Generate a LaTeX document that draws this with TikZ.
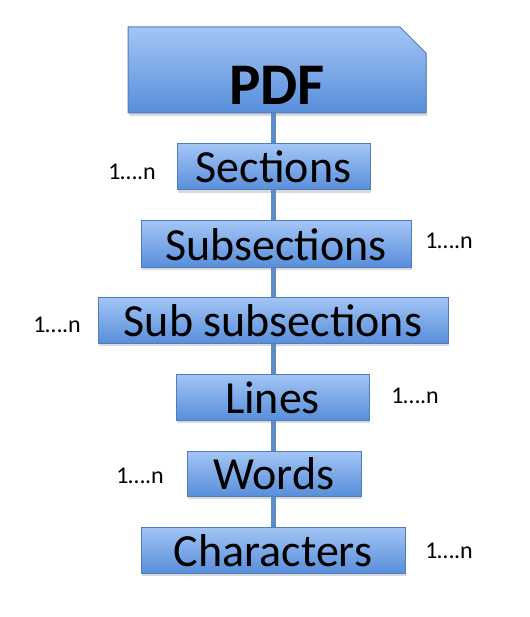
\documentclass[tikz,border=0pt]{standalone}
\usepackage{fontspec}
\setmainfont{Carlito}
\usetikzlibrary{shapes.misc,shadows}
\definecolor{boxtop}{RGB}{163,197,245}
\definecolor{boxbot}{RGB}{88,142,218}
\definecolor{boxline}{RGB}{79,125,190}
\definecolor{linkblue}{RGB}{92,140,200}

\begin{document}
\begin{tikzpicture}[x=1pt,y=-1pt,
    box/.style = {draw=boxline, line width=1pt, top color=boxtop, bottom color=boxbot,
                  drop shadow={opacity=0.3, shadow xshift=1pt, shadow yshift=-3pt},
                  inner sep=0pt, text height=32pt, text depth=0pt,
                  font=\fontsize{46}{46}\selectfont},
    mult/.style = {font=\fontsize{24}{24}\selectfont, inner sep=0pt},
    link/.style = {draw=linkblue, line width=5pt}]
            \useasboundingbox (0,0) rectangle (529,617);

            % links first, boxes on top
            \coordinate (top) at (273,110);
            \coordinate (bot) at (273,530);
            \draw[link] (top) -- (bot);

            \node[box, chamfered rectangle, chamfered rectangle corners=north east,
                  chamfered rectangle xsep=13pt, chamfered rectangle ysep=13pt,
                  minimum width=298pt, minimum height=86pt,
                  text height=40pt, text depth=0pt,
                  font=\bfseries\fontsize{59}{59}\selectfont] (pdf) at (277,70) {\raisebox{-15pt}{PDF}};

            \node[box, minimum width=193pt, minimum height=46pt] (sec) at (273.5,167) {Sections};
            \node[box, minimum width=270pt, minimum height=46pt] (subsec) at (276,244) {Subsections};
            \node[box, minimum width=350pt, minimum height=46pt] (subsub) at (273,320) {Sub subsections};
            \node[box, minimum width=193pt, minimum height=46pt] (lin) at (272.5,397) {Lines};
            \node[box, minimum width=174pt, minimum height=45pt] (wrd) at (274,473.5) {Words};
            \node[box, minimum width=264pt, minimum height=46pt] (chr) at (273,550) {Characters};

            \node[mult] (m1) at (132,172) {1\ldots.n};
            \node[mult] (m2) at (449,241) {1\ldots.n};
            \node[mult] (m3) at (57,325) {1\ldots.n};
            \node[mult] (m4) at (415,396) {1\ldots.n};
            \node[mult] (m5) at (140,476) {1\ldots.n};
            \node[mult] (m6) at (449,551) {1\ldots.n};
        \end{tikzpicture}
\end{document}
